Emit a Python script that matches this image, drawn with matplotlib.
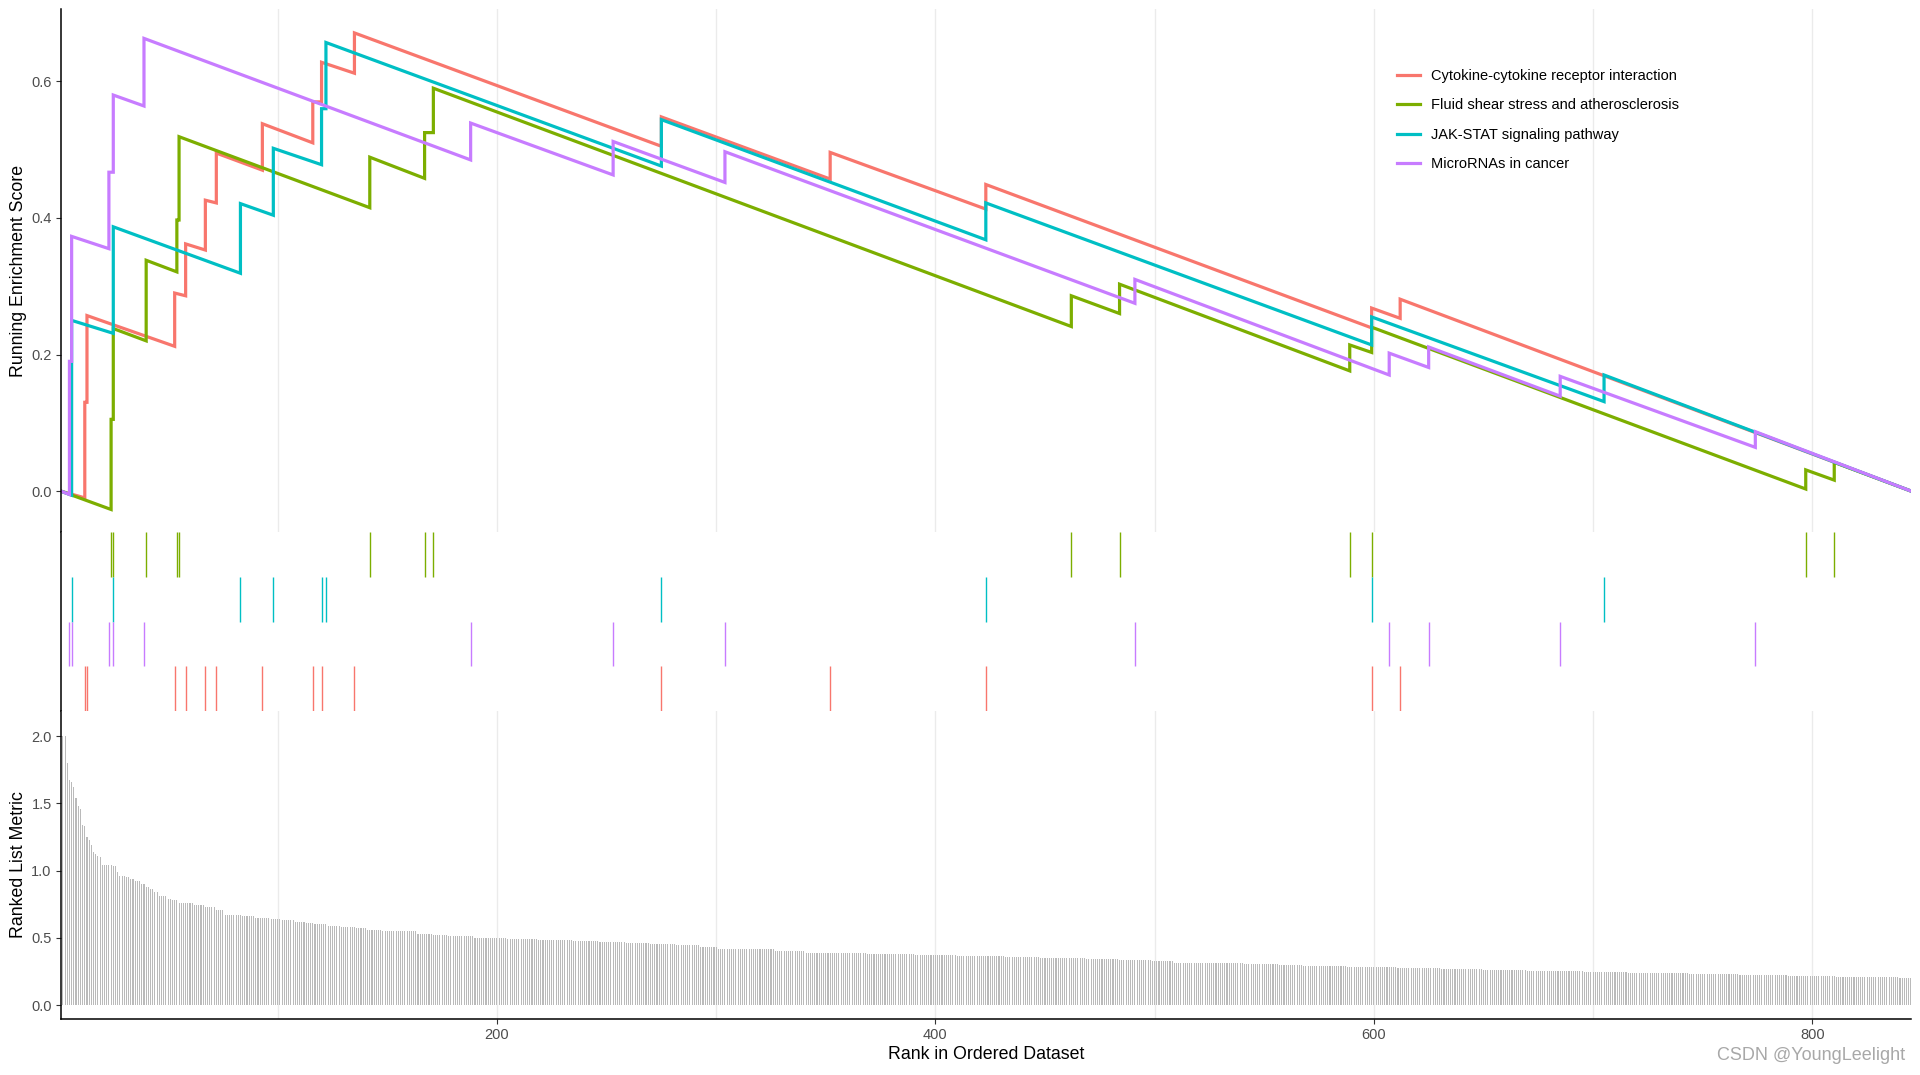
import numpy as np
import matplotlib.pyplot as plt
from matplotlib import font_manager

plt.rcParams['font.family'] = ['Liberation Sans', 'DejaVu Sans']

# pick a narrow face for the tick labels if it is there
names = set(f.name for f in font_manager.fontManager.ttflist)
tick_font = 'Liberation Sans Narrow' if 'Liberation Sans Narrow' in names else 'Liberation Sans'

n_genes = 845

set_names = ['Cytokine-cytokine receptor interaction',
             'Fluid shear stress and atherosclerosis',
             'JAK-STAT signaling pathway',
             'MicroRNAs in cancer']
set_colors = ['#F8766D', '#7CAE00', '#00BFC4', '#C77CFF']

# hit ranks, running score just before each hit and just after it
red_hits = [12, 13, 53, 58, 67, 72, 93, 116, 120, 135, 275, 352, 423, 599, 612]
red_lo = [-0.010, 0.130, 0.212, 0.286, 0.353, 0.422, 0.470, 0.510, 0.570, 0.612, 0.505, 0.457, 0.413, 0.239, 0.253]
red_hi = [0.130, 0.257, 0.290, 0.362, 0.426, 0.495, 0.538, 0.570, 0.628, 0.671, 0.548, 0.496, 0.449, 0.268, 0.281]

green_hits = [24, 25, 40, 54, 55, 142, 167, 171, 462, 484, 589, 599, 797, 810]
green_lo = [-0.027, 0.105, 0.220, 0.321, 0.397, 0.415, 0.458, 0.525, 0.241, 0.260, 0.176, 0.203, 0.003, 0.016]
green_hi = [0.105, 0.238, 0.338, 0.397, 0.519, 0.489, 0.525, 0.590, 0.286, 0.303, 0.214, 0.240, 0.031, 0.042]

cyan_hits = [6, 25, 83, 98, 120, 122, 275, 423, 599, 705]
cyan_lo = [-0.006, 0.231, 0.319, 0.404, 0.478, 0.560, 0.476, 0.368, 0.214, 0.131]
cyan_hi = [0.250, 0.387, 0.421, 0.502, 0.560, 0.657, 0.544, 0.422, 0.255, 0.170]

purple_hits = [5, 6, 23, 25, 39, 188, 253, 304, 491, 607, 625, 685, 774]
purple_lo = [-0.005, 0.190, 0.355, 0.467, 0.564, 0.485, 0.463, 0.452, 0.275, 0.170, 0.181, 0.139, 0.064]
purple_hi = [0.190, 0.373, 0.467, 0.580, 0.663, 0.539, 0.512, 0.497, 0.310, 0.202, 0.211, 0.168, 0.087]

# ranked list metric, as runs of (value, how many genes)
metric_vals = [2.03, 2.00, 2.00, 1.80, 1.67, 1.66, 1.62, 1.54, 1.48, 1.46, 1.34, 1.33, 1.25,
               1.23, 1.19, 1.14, 1.12, 1.11, 1.10,
               1.04, 1.03, 0.99, 0.96, 0.95, 0.94, 0.92, 0.90, 0.88, 0.86, 0.84, 0.81, 0.79,
               0.78, 0.76, 0.74, 0.73, 0.71, 0.67, 0.66, 0.65, 0.64, 0.63, 0.62, 0.61, 0.60,
               0.59, 0.58, 0.57, 0.56, 0.55, 0.53, 0.52, 0.51, 0.50, 0.49, 0.485, 0.475, 0.465,
               0.46, 0.45, 0.445, 0.434, 0.42, 0.414, 0.40, 0.39, 0.384, 0.377, 0.37, 0.362,
               0.354, 0.347, 0.34, 0.333, 0.327, 0.312, 0.302, 0.295, 0.287, 0.28, 0.273,
               0.265, 0.26, 0.25, 0.243, 0.235, 0.228, 0.22, 0.213, 0.208, 0.20]
metric_counts = [1] * 19 + [5, 2, 1, 3, 2, 2, 3, 2, 2, 2, 2, 4, 2,
                            3, 7, 5, 5, 4, 8, 6, 7, 5, 6, 5, 4, 6,
                            6, 7, 5, 7, 16, 7, 7, 12, 15, 14, 16, 12, 12,
                            11, 12, 11, 8, 14, 12, 14, 9, 19, 22, 19, 22,
                            16, 21, 15, 15, 10, 32, 16, 11, 20, 23, 20,
                            19, 20, 26, 20, 28, 23, 22, 22, 29, 6]

metric = np.repeat(metric_vals, metric_counts)
ranks = np.arange(1, len(metric) + 1)

sets = [(red_hits, red_lo, red_hi),
        (green_hits, green_lo, green_hi),
        (cyan_hits, cyan_lo, cyan_hi),
        (purple_hits, purple_lo, purple_hi)]

fig = plt.figure(figsize=(19.2, 10.75), dpi=100)
left, width = 0.0316, 0.9637
ax_es = fig.add_axes([left, 0.5051, width, 0.4865])
ax_hit = fig.add_axes([left, 0.3386, width, 0.1665])
ax_rk = fig.add_axes([left, 0.0521, width, 0.2865])

grid_x = [100, 200, 300, 400, 500, 600, 700, 800]
grid_col = '#EBEBEB'

# running enrichment score
for x in grid_x:
    ax_es.axvline(x, color=grid_col, lw=1.0, zorder=0)
for (hits, lo, hi), name, col in zip(sets, set_names, set_colors):
    xs, ys = [1], [0.0]
    for r, a, b in zip(hits, lo, hi):
        xs += [r, r]
        ys += [a, b]
    xs.append(n_genes)
    ys.append(0.0)
    ax_es.plot(xs, ys, color=col, lw=2.3, label=name, solid_joinstyle='miter')

ax_es.set_xlim(1, n_genes)
ax_es.set_ylim(-0.060, 0.706)
ax_es.set_yticks([0.0, 0.2, 0.4, 0.6])
ax_es.set_yticklabels(['0.0', '0.2', '0.4', '0.6'])
ax_es.set_xticks([])
for s in ['top', 'right', 'bottom']:
    ax_es.spines[s].set_visible(False)
ax_es.set_ylabel('Running Enrichment Score', fontsize=12.8)
ax_es.yaxis.set_label_coords(-0.0182, 0.5)

leg = ax_es.legend(loc='upper left', bbox_to_anchor=(0.722, 0.885), frameon=False,
                   fontsize=10.5, handlelength=1.6, handletextpad=0.75,
                   labelspacing=1.05, borderpad=0, borderaxespad=0)

# hit positions
row_of = [0, 3, 2, 1]  # red bottom, green top
for (hits, lo, hi), col, row in zip(sets, set_colors, row_of):
    ax_hit.vlines(hits, row, row + 1, color=col, lw=1.0)
ax_hit.set_xlim(1, n_genes)
ax_hit.set_ylim(0, 4)
ax_hit.set_xticks([])
ax_hit.set_yticks([])
for s in ['top', 'right', 'bottom']:
    ax_hit.spines[s].set_visible(False)

# ranked list metric
for x in grid_x:
    ax_rk.axvline(x, color=grid_col, lw=1.0, zorder=0)
ax_rk.bar(ranks, metric, width=0.5, color='#BABABA', lw=0, zorder=2, antialiased=False)
ax_rk.set_xlim(1, n_genes)
ax_rk.set_ylim(-0.104, 2.186)
ax_rk.set_yticks([0.0, 0.5, 1.0, 1.5, 2.0])
ax_rk.set_yticklabels(['0.0', '0.5', '1.0', '1.5', '2.0'])
ax_rk.set_xticks([200, 400, 600, 800])
ax_rk.set_xticklabels(['200', '400', '600', '800'])
for s in ['top', 'right']:
    ax_rk.spines[s].set_visible(False)
ax_rk.set_ylabel('Ranked List Metric', fontsize=12.8)
ax_rk.yaxis.set_label_coords(-0.0182, 0.5)
ax_rk.set_xlabel('Rank in Ordered Dataset', fontsize=12.8, labelpad=3)

for ax in [ax_es, ax_hit, ax_rk]:
    for s in ax.spines.values():
        s.set_linewidth(1.1)
        s.set_color('black')
    ax.tick_params(length=3.5, width=0.8, color='#333333', labelcolor='#4D4D4D',
                   labelsize=10.5, pad=3)
    for lab in ax.get_xticklabels() + ax.get_yticklabels():
        lab.set_family(tick_font)

fig.text(0.9925, 1 - 1055 / 1075, 'CSDN @YoungLeelight', ha='right', va='center',
         fontsize=13, color='#A8A8A8')

fig.savefig('out.png', dpi=100)
